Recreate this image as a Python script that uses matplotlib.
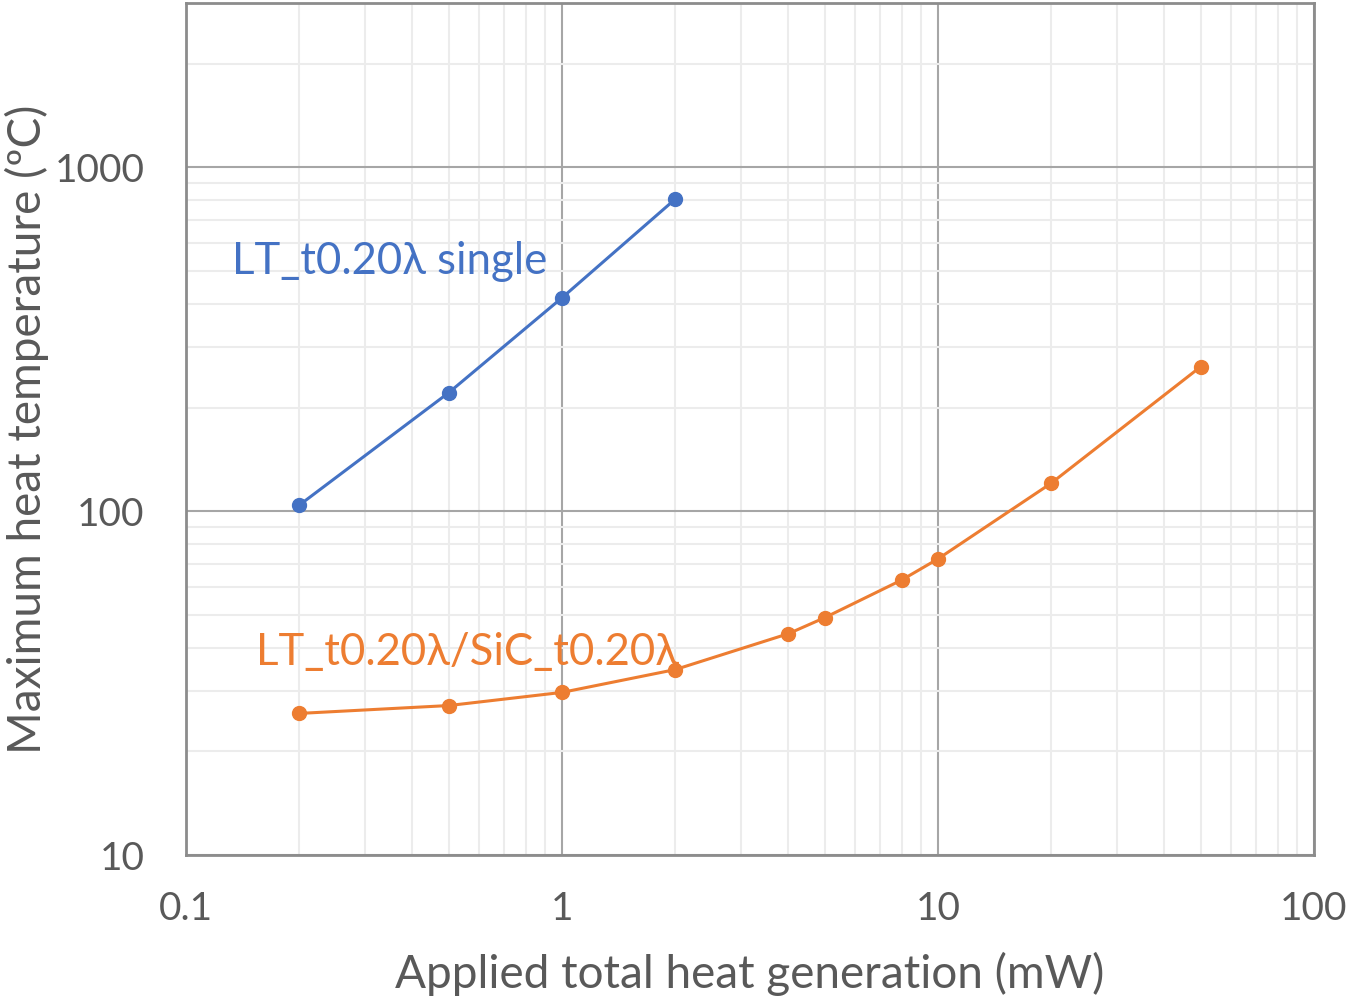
import matplotlib
matplotlib.use('Agg')
import matplotlib.pyplot as plt
from matplotlib.ticker import LogLocator, FixedLocator, FixedFormatter, NullFormatter

plt.rcParams['font.family'] = ['Lato', 'DejaVu Sans']

# data
single_x = [0.2, 0.5, 1, 2]
single_y = [104, 221, 417, 807]
sic_x = [0.2, 0.5, 1, 2, 4, 5, 8, 10, 20, 50]
sic_y = [25.8, 27.2, 29.7, 34.6, 44, 49, 63, 72.6, 120.5, 263]

x_ticks = [0.1, 1, 10, 100]
x_labels = ['0.1', '1', '10', '100']
y_ticks = [10, 100, 1000]
y_labels = ['10', '100', '1000']

blue = '#4472C4'
orange = '#ED7D31'
txt = '#595959'

fig = plt.figure(figsize=(13.47, 10.02), dpi=100)
ax = fig.add_axes([0.1381, 0.1467, 0.8374, 0.8503])

ax.plot(single_x, single_y, color=blue, lw=2.2, marker='o', ms=10, zorder=3)
ax.plot(sic_x, sic_y, color=orange, lw=2.2, marker='o', ms=10, zorder=3)

ax.set_xscale('log')
ax.set_yscale('log')
ax.set_xlim(0.1, 100)
ax.set_ylim(10, 3000)

ax.xaxis.set_major_locator(FixedLocator(x_ticks))
ax.xaxis.set_major_formatter(FixedFormatter(x_labels))
ax.yaxis.set_major_locator(FixedLocator(y_ticks))
ax.yaxis.set_major_formatter(FixedFormatter(y_labels))
ax.xaxis.set_minor_locator(LogLocator(base=10, subs=range(2, 10), numticks=20))
ax.yaxis.set_minor_locator(LogLocator(base=10, subs=range(2, 10), numticks=20))
ax.xaxis.set_minor_formatter(NullFormatter())
ax.yaxis.set_minor_formatter(NullFormatter())

ax.grid(which='major', color='#a6a6a6', lw=1.5)
ax.grid(which='minor', color='#ececec', lw=1.5)
ax.set_axisbelow(True)

ax.tick_params(which='both', length=0, labelsize=28, labelcolor=txt)
ax.tick_params(axis='x', pad=26)
ax.tick_params(axis='y', pad=30)
for s in ax.spines.values():
    s.set_color('#8c8c8c')
    s.set_linewidth(2)

ax.set_xlabel('Applied total heat generation (mW)', fontsize=33, color=txt, labelpad=18)
ax.set_ylabel('Maximum heat temperature (ºC)', fontsize=33, color=txt, labelpad=4)

ax.text(0.1325, 531, 'LT_t0.20λ single', color=blue, fontsize=31.5, va='center', ha='left')
ax.text(0.1535, 38.7, 'LT_t0.20λ/SiC_t0.20λ', color=orange, fontsize=31.5, va='center', ha='left')

fig.savefig('out.png', dpi=100)
